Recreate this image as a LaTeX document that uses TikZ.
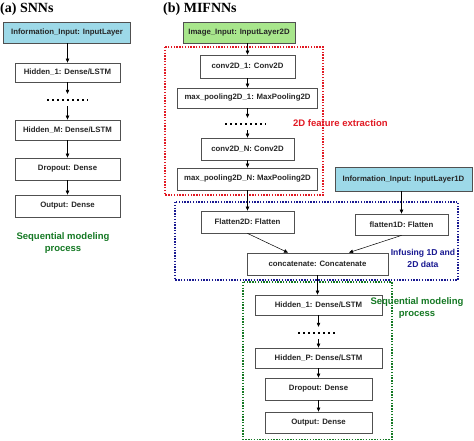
\documentclass[tikz,border=0pt]{standalone}
\usepackage{fontspec}
\setmainfont{Liberation Serif}
\setsansfont{Liberation Sans}
\usetikzlibrary{arrows.meta}
\definecolor{cyanfill}{RGB}{157,217,232}
\definecolor{greenfill}{RGB}{168,230,140}
\definecolor{redd}{RGB}{225,25,35}
\definecolor{blued}{RGB}{25,25,145}
\definecolor{greend}{RGB}{20,120,35}
\definecolor{boxline}{RGB}{80,80,80}
\tikzset{
  layer/.style={draw=boxline, line width=0.8pt, fill=white, inner sep=0pt,
    font=\sffamily\bfseries\fontsize{7.8}{9}\selectfont, text=black!85},
  dotsrow/.style={inner sep=0pt, minimum height=12pt,
    path picture={\draw[line width=2pt, dash pattern=on 2pt off 3pt]
      ([xshift=1pt]path picture bounding box.west) -- (path picture bounding box.east);}},
  arr/.style={line width=0.5pt, -{Triangle[length=4pt,width=3.5pt]}},
  frame/.style={line width=1.4pt, dash pattern=on 1.4pt off 1.4pt},
  note/.style={font=\sffamily\bfseries\fontsize{9.5}{12}\selectfont, align=center, inner sep=0pt},
  panel/.style={font=\rmfamily\bfseries\fontsize{14}{16}\selectfont, inner sep=0pt, anchor=base west}
}
\begin{document}
\begin{tikzpicture}[x=1pt,y=-1pt]
\useasboundingbox (0,0) rectangle (474,441);
% panel labels
\node[panel] (pa) at (0,13) {(a) SNNs};
\node[panel] (pb) at (163,13) {(b) MIFNNs};
% (a) SNNs
\node[layer, fill=cyanfill, minimum width=127, minimum height=21] (a0) at (67,32.5) {Information\_Input: InputLayer};
\node[layer, minimum width=105, minimum height=19] (a1) at (67.5,72.5) {Hidden\_1: Dense/LSTM};
\node[dotsrow, minimum width=42] (d1) at (67,100) {};
\node[layer, minimum width=105, minimum height=20] (a2) at (67.5,130) {Hidden\_M: Dense/LSTM};
\node[layer, minimum width=105, minimum height=22] (a3) at (67.5,169) {Dropout: Dense};
\node[layer, minimum width=105, minimum height=22] (a4) at (67.5,206) {Output: Dense};
\node[note, text=greend] (ta) at (63,243) {Sequential modeling\\process};
\draw[arr] (a1.north |- a0.south) -- (a1.north);
\draw[arr] (a1.south) -- (d1.north -| a1.south);
\draw[arr] (d1.south -| a2.north) -- (a2.north);
\draw[arr] (a2) -- (a3);
\draw[arr] (a3) -- (a4);
% (b) MIFNNs - 2D branch
\node[layer, fill=greenfill, minimum width=112, minimum height=21] (b0) at (239,32.5) {Image\_Input: InputLayer2D};
\node[layer, minimum width=95, minimum height=23] (b1) at (247.5,66.5) {conv2D\_1: Conv2D};
\node[layer, minimum width=140, minimum height=20] (b2) at (247.5,98) {max\_pooling2D\_1: MaxPooling2D};
\node[dotsrow, minimum width=42] (d2) at (245,124) {};
\node[layer, minimum width=93, minimum height=22] (b3) at (247.5,149) {conv2D\_N: Conv2D};
\node[layer, minimum width=140, minimum height=22] (b4) at (247.5,179) {max\_pooling2D\_N: MaxPooling2D};
\draw[frame, draw=redd] (165,47) rectangle (323,195);
\node[note, text=redd, anchor=west] (tr) at (293,123) {2D feature extraction};
\draw[arr] (b1.north |- b0.south) -- (b1.north);
\draw[arr] (b1) -- (b2);
\draw[arr] (b2.south) -- (d2.north -| b2.south);
\draw[arr] (d2.south -| b3.north) -- (b3.north);
\draw[arr] (b3) -- (b4);
% fusion
\node[layer, fill=cyanfill, minimum width=137, minimum height=24] (c0) at (403.5,179) {Information\_Input: InputLayer1D};
\node[layer, minimum width=93, minimum height=22] (f2) at (247.5,222) {Flatten2D: Flatten};
\node[layer, minimum width=93, minimum height=21] (f1) at (401.5,224.5) {flatten1D: Flatten};
\node[layer, minimum width=141, minimum height=22] (cc) at (317.5,264) {concatenate: Concatenate};
\draw[frame, draw=blued] (175,202) rectangle (458,280);
\node[note, text=blued, font=\sffamily\bfseries\fontsize{8.6}{12}\selectfont] (tb) at (423,258) {Infusing 1D and\\2D data};
\draw[arr] (b4) -- (f2);
\draw[arr] (f1.north |- c0.south) -- (f1.north);
\draw[arr] (f2.south) -- ([xshift=-29.5pt]cc.north);
\draw[arr] (f1.south) -- ([xshift=31.5pt]cc.north);
% sequential part
\node[layer, minimum width=127, minimum height=20] (h1) at (318.5,305) {Hidden\_1: Dense/LSTM};
\node[dotsrow, minimum width=40] (d3) at (317,333) {};
\node[layer, minimum width=127, minimum height=20] (h2) at (318.5,358) {Hidden\_P: Dense/LSTM};
\node[layer, minimum width=107, minimum height=22] (dp) at (318.5,389) {Dropout: Dense};
\node[layer, minimum width=107, minimum height=21] (op) at (318.5,422.5) {Output: Dense};
\draw[frame, draw=greend] (243,282) rectangle (392,439.3);
\node[note, text=greend] (tg) at (417,308.5) {Sequential modeling\\process};
\draw[arr] (cc.south) -- (h1.north -| cc.south);
\draw[arr] (h1.south) -- (d3.north -| h1.south);
\draw[arr] (d3.south -| h2.north) -- (h2.north);
\draw[arr] (h2) -- (dp);
\draw[arr] (dp) -- (op);
\end{tikzpicture}
\end{document}
